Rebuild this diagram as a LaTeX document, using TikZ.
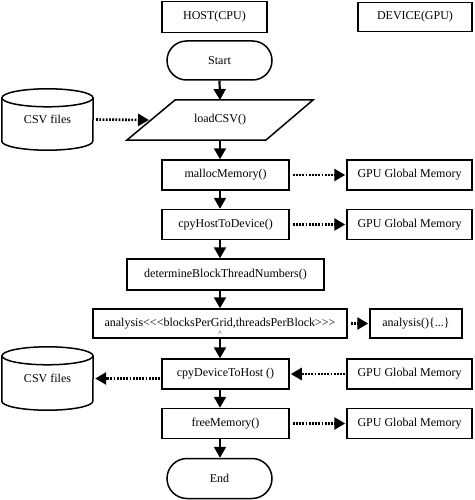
\documentclass[tikz,border=0pt]{standalone}
\usepackage{fontspec}
\setmainfont{Liberation Serif}[Ligatures=TeXOff]
\usetikzlibrary{arrows.meta,shapes.misc,calc}
\begin{document}
\begin{tikzpicture}[x=1pt,y=-1pt,
  every node/.style={font=\fontsize{12}{14}\selectfont, inner sep=0pt},
  box/.style={draw, line width=1.5pt, rectangle, minimum height=30pt},
  term/.style={draw, line width=1.5pt, rounded rectangle, minimum width=105pt, minimum height=39pt},
  ghost/.style={rectangle},
  shapeline/.style={line width=1.5pt, line join=miter},
  arr/.style={line width=2.2pt, -{Triangle[length=11pt,width=12pt]}},
  dotarr/.style={line width=2.6pt, dash pattern=on 1.8pt off 1.4pt, -{Triangle[length=11pt,width=12pt]}}
]
\useasboundingbox (0,0) rectangle (474,500);

% header boxes
\node[box, minimum width=105pt, minimum height=31pt] (host) at (214.5,17) {HOST(CPU)};
\node[box, minimum width=114pt, minimum height=29pt] (device) at (415,17) {DEVICE(GPU)};

% main column
\node[term] (start) at (219.5,60.5) {Start};
\node[ghost, minimum width=140pt, minimum height=40pt] (load) at (220,120) {loadCSV()};
\draw[shapeline] (175,100) -- (313,100) -- (266,140) -- (127,140) -- cycle;
\coordinate (loadL) at (149,120);

\node[box, minimum width=127pt] (malloc) at (225.5,175) {mallocMemory()};
\node[box, minimum width=127pt] (cpyh) at (225.5,224.5) {cpyHostToDevice()};
\node[box, minimum width=197pt, minimum height=31pt] (det) at (225.5,274.5) {determineBlockThreadNumbers()};
\node[box, minimum width=254pt, minimum height=29pt] (ana) at (220,323.5) {analysis<<<blocksPerGrid,threadsPerBlock>>>};
\node (caret) at (220,333.5) {\fontsize{7}{7}\selectfont\textasciicircum};
\node[box, minimum width=127pt] (cpyd) at (225.5,374) {cpyDeviceToHost ()};
\node[box, minimum width=127pt] (free) at (225.5,423.5) {freeMemory()};
\node[term, minimum height=40pt] (end) at (219.5,478.5) {End};

% device column
\node[box, minimum width=125pt] (gpu1) at (409.5,175) {GPU Global Memory};
\node[box, minimum width=125pt] (gpu2) at (409.5,224.5) {GPU Global Memory};
\node[box, minimum width=92pt, minimum height=29pt] (anak) at (416,323.5) {analysis()\{...\}};
\node[box, minimum width=125pt] (gpu3) at (409.5,374) {GPU Global Memory};
\node[box, minimum width=125pt] (gpu4) at (409.5,423.5) {GPU Global Memory};

% CSV cylinders
\node[ghost, minimum width=91pt, minimum height=61pt] (csv1) at (47.5,119.5) {CSV files};
\draw[shapeline] ($(csv1.north west)+(0,9)$) -- ($(csv1.south west)+(0,-9)$)
   arc[start angle=180, end angle=360, x radius=45.5pt, y radius=9pt]
   -- ($(csv1.north east)+(0,9)$);
\draw[shapeline] ($(csv1.north)+(0,9)$) ellipse[x radius=45.5pt, y radius=9pt];

\node[ghost, minimum width=91pt, minimum height=63pt] (csv2) at (47.5,378.5) {CSV files};
\draw[shapeline] ($(csv2.north west)+(0,9)$) -- ($(csv2.south west)+(0,-9)$)
   arc[start angle=180, end angle=360, x radius=45.5pt, y radius=9pt]
   -- ($(csv2.north east)+(0,9)$);
\draw[shapeline] ($(csv2.north)+(0,9)$) ellipse[x radius=45.5pt, y radius=9pt];

% solid flow arrows
\draw[arr] (start.south) -- (220,100);
\draw[arr] (220,140) -- (malloc.north -| ana.north);
\draw[arr] (malloc.south -| ana.north) -- (cpyh.north -| ana.north);
\draw[arr] (cpyh.south -| ana.north) -- (det.north -| ana.north);
\draw[arr] (det.south -| ana.north) -- (ana.north);
\draw[arr] (ana.south) -- (cpyd.north -| ana.north);
\draw[arr] (cpyd.south -| ana.north) -- (free.north -| ana.north);
\draw[arr] (free.south -| ana.north) -- (end.north -| ana.north);

% dotted arrows
\draw[dotarr, shorten <=3pt] (csv1.east) -- (loadL);
\draw[dotarr, shorten <=3pt, shorten >=1pt] (malloc.east) -- (gpu1.west);
\draw[dotarr, shorten <=3pt, shorten >=1pt] (cpyh.east) -- (gpu2.west);
\draw[dotarr, shorten <=3pt, shorten >=1pt] (ana.east) -- (anak.west);
\draw[dotarr, shorten <=1pt, shorten >=1pt] (gpu3.west) -- (cpyd.east);
\draw[dotarr, shorten <=1pt, shorten >=2pt] (cpyd.west |- csv2.east) -- (csv2.east);
\draw[dotarr, shorten <=3pt, shorten >=1pt] (free.east) -- (gpu4.west);
\end{tikzpicture}
\end{document}
